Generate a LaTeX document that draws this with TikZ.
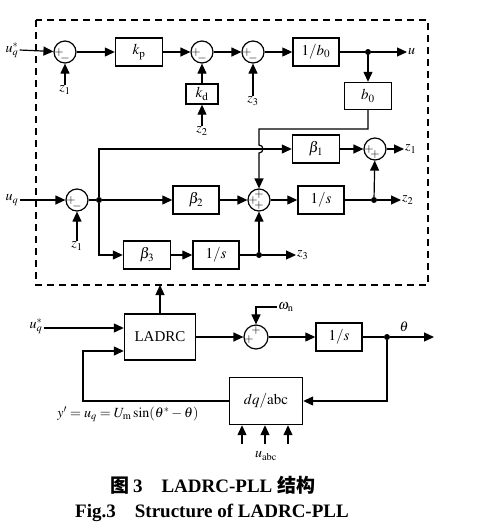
\documentclass[tikz,border=0pt]{standalone}
\usepackage{mathptmx}
\usepackage{fontspec}
\setmainfont{Liberation Serif}
\newfontfamily\cjk{Noto Sans CJK SC}
\usetikzlibrary{arrows.meta, calc}

\begin{document}
\begin{tikzpicture}[
    x=1pt, y=-1pt,
    blk/.style={draw, line width=1.4pt, minimum height=28pt, inner sep=0pt, font=\fontsize{15}{17}\selectfont},
    sum/.style={draw, circle, line width=1.2pt, minimum size=22pt, inner sep=0pt},
    sgn/.style={font=\fontsize{12}{12}\selectfont, inner sep=0pt},
    lbl/.style={font=\fontsize{14}{16}\selectfont, inner sep=1pt},
    dot/.style={circle, fill, inner sep=0pt, minimum size=6pt},
    wire/.style={line width=1.2pt},
    arr/.style={wire, -{Triangle[length=10pt,width=9pt]}}
]
    \useasboundingbox (0,0) rectangle (489,531);

    % LADRC frame
    \draw[line width=1.3pt, dash pattern=on 7pt off 5pt] (36,20) rectangle (428,285);

    % Upper row
    \node[lbl] (uqs) at (12,50) {$u_q^*$};
    \node[sum] (s1) at (65,52) {};
    \node[lbl] (z1a) at (65,90) {$z_1$};
    \node[blk, minimum width=47pt] (kp) at (139,52) {$k_\mathrm{p}$};
    \node[sum] (s2) at (202,52) {};
    \node[blk, minimum width=32pt, minimum height=20pt] (kd) at (202,94) {$k_\mathrm{d}$};
    \node[lbl] (z2a) at (202,131) {$z_2$};
    \node[sum] (s3) at (253,52) {};
    \node[lbl] (z3a) at (253,101) {$z_3$};
    \node[blk, minimum width=46pt] (inb) at (316,52) {$1/b_0$};
    \node[dot] (du) at (368,52) {};
    \coordinate (uo) at (407,52);
    \node[lbl, right] (ul) at (uo) {$u$};
    \node[blk, minimum width=47pt, minimum height=27pt] (b0) at (368,96) {$b_0$};

    \draw[arr] (uqs.east) -- (s1);
    \draw[arr] (z1a) -- (s1);
    \draw[arr] (s1) -- (kp);
    \draw[arr] (kp) -- (s2);
    \draw[arr] (z2a) -- (kd);
    \draw[arr] (kd) -- (s2);
    \draw[arr] (s2) -- (s3);
    \draw[arr] (z3a) -- (s3);
    \draw[arr] (s3) -- (inb);
    \draw[wire] (inb) -- (du);
    \draw[arr] (du) -- (uo);
    \draw[arr] (du) -- (b0);

    % Observer
    \node[lbl] (uq) at (12,200) {$u_q$};
    \node[sum] (s5) at (77,200) {};
    \node[lbl] (z1b) at (77,246) {$z_1$};
    \node[dot] (dj) at (99,200) {};
    \node[blk, minimum width=47pt] (b1) at (316,149) {$\beta_1$};
    \node[sum] (sz) at (375,149) {};
    \coordinate (z1e) at (404,149);
    \node[lbl, right] (z1c) at (z1e) {$z_1$};
    \node[blk, minimum width=46pt] (b2) at (196,200) {$\beta_2$};
    \node[sum] (s4) at (259,200) {};
    \node[blk, minimum width=46pt] (is1) at (321,200) {$1/s$};
    \node[dot] (d2) at (374,200) {};
    \coordinate (z2e) at (401,200);
    \node[lbl, right] (z2c) at (z2e) {$z_2$};
    \node[blk, minimum width=47pt] (b3) at (147,255) {$\beta_3$};
    \node[blk, minimum width=46pt] (is2) at (216,255) {$1/s$};
    \node[dot] (d3) at (259,255) {};
    \coordinate (z3e) at (296,255);
    \node[lbl, right] (z3c) at (z3e) {$z_3$};

    \draw[arr] (uq.east) -- (s5);
    \draw[arr] (z1b) -- (s5);
    \draw[wire] (s5) -- (dj);
    \draw[arr] (dj) -- (b2);
    \draw[arr] (dj) |- (b1);
    \draw[arr] (dj) |- (b3);
    \draw[arr] (b1) -- (sz);
    \draw[arr] (sz) -- (z1e);
    \draw[arr] (b2) -- (s4);
    \draw[arr] (s4) -- (is1);
    \draw[wire] (is1) -- (d2);
    \draw[arr] (d2) -- (z2e);
    \draw[arr] (d2) -- (sz);
    \draw[arr] (b3) -- (is2);
    \draw[wire] (is2) -- (d3);
    \draw[arr] (d3) -- (z3e);
    \draw[arr] (d3) -- (s4);
    \draw[arr] (b0.south) |- (259,129) -- (259,145)
        arc[start angle=90, end angle=-90, radius=4pt] -- (s4.north);

    % Signs
    \node[sgn] at ([xshift=-6pt]s1.center) {$+$};
    \node[sgn] at ([yshift=-6pt]s1.center) {$-$};
    \node[sgn] at ([xshift=-6pt]s2.center) {$+$};
    \node[sgn] at ([yshift=-6pt]s2.center) {$-$};
    \node[sgn] at ([xshift=-6pt]s3.center) {$+$};
    \node[sgn] at ([yshift=-6pt]s3.center) {$-$};
    \node[sgn] at ([xshift=-6pt]s5.center) {$+$};
    \node[sgn] at ([yshift=-6pt]s5.center) {$-$};
    \node[sgn] at ([xshift=-6pt]sz.center) {$+$};
    \node[sgn] at ([yshift=-5pt]sz.center) {$+$};
    \node[sgn] at ([yshift=6pt]s4.center) {$+$};
    \node[sgn] at ([xshift=-6pt]s4.center) {$+$};
    \node[sgn] at ([yshift=-5pt]s4.center) {$+$};

    % PLL loop
    \node[blk, minimum width=71pt, minimum height=46pt] (ladrc) at (160,337) {LADRC};
    \coordinate (fb) at (160,285);
    \node[lbl] (uqs2) at (36,326) {$u_q^*$};
    \coordinate (lin1) at ([yshift=9pt]ladrc.west);
    \coordinate (lin2) at ([yshift=-14pt]ladrc.west);
    \node[sum, minimum size=24pt] (s6) at (256,337) {};
    \coordinate (wn) at (277,307);
    \node[lbl, right] (wnl) at (wn) {$\omega_\mathrm{n}$};
    \node[blk, minimum width=46pt] (is3) at (339,337) {$1/s$};
    \node[dot] (dth) at (387,337) {};
    \coordinate (th) at (434,337);
    \node[lbl] (thl) at (404,327) {$\theta$};
    \node[blk, minimum width=73pt, minimum height=47pt] (dq) at (266,401) {$dq/\mathrm{abc}$};
    \coordinate (fbk) at (83,401);
    \node[lbl] (yl) at (128,414) {$y'=u_q=U_\mathrm{m}\sin(\theta^*-\theta)$};
    \node[lbl] (uabc) at (266,456) {$u_\mathrm{abc}$};

    \draw[arr] (ladrc) -- (fb);
    \draw[arr] (uqs2.east |- lin1) -- (lin1);
    \draw[arr] (ladrc) -- (s6);
    \draw[arr] (wn) -| (s6);
    \draw[arr] (s6) -- (is3);
    \draw[wire] (is3) -- (dth);
    \draw[arr] (dth) -- (th);
    \draw[arr] (dth) |- (dq);
    \draw[arr] (dq.west) -- (fbk) |- (lin2);
    \foreach \dx in {-24,-1,22}
        \draw[arr] ([xshift=\dx pt, yshift=-19pt]dq.south) -- ([xshift=\dx pt]dq.south);
    \node[sgn] at ([yshift=7pt]s6.center) {$+$};
    \node[sgn] at ([xshift=-7pt, yshift=-2pt]s6.center) {$+$};

    % Caption
    \node[font=\fontsize{19}{22}\selectfont\bfseries] (cap1) at (213,485)
        {{\cjk\bfseries 图}\,3\quad LADRC-PLL {\cjk\bfseries 结构}};
    \node[font=\fontsize{19}{22}\selectfont\bfseries] (cap2) at (212,513)
        {Fig.3\quad Structure of LADRC-PLL};
\end{tikzpicture}
\end{document}
